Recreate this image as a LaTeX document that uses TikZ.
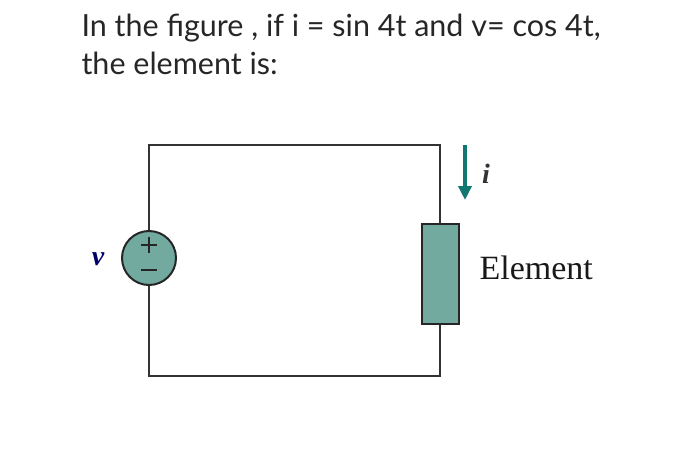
\documentclass[tikz,border=0pt]{standalone}
\usetikzlibrary{arrows.meta}
\usepackage{fontspec}
\setmainfont{Liberation Serif}
\newfontfamily\titlefont{Lato}
\definecolor{fillteal}{RGB}{114,170,160}
\definecolor{arrteal}{RGB}{18,119,112}
\begin{document}
\begin{tikzpicture}[x=1pt,y=-1pt,
  wire/.style={line width=2pt,black!80},
  comp/.style={draw=black!85,line width=2pt,fill=fillteal}]
\useasboundingbox (0,0) rectangle (700,465);
\node[anchor=west,font=\titlefont\fontsize{30.5}{36}\selectfont,text=black!85] (t1) at (78,28) {In the figure , if i = sin 4t and v= cos 4t,};
\node[anchor=west,font=\titlefont\fontsize{30.5}{36}\selectfont,text=black!85] (t2) at (78,63) {the element is:};
\coordinate (tl) at (149,145);
\coordinate (tr) at (440,145);
\coordinate (bl) at (149,376);
\coordinate (br) at (440,376);
\node[comp,circle,minimum size=54pt,inner sep=0pt] (src) at (149,258) {};
\node[comp,rectangle,minimum width=37pt,minimum height=100pt,inner sep=0pt] (el) at (440,274) {};
\draw[wire] (src.north) -- (tl) -- (tr) -- (el.north);
\draw[wire] (src.south) -- (bl) -- (br) -- (el.south);
\draw[black!85,line width=1.6pt] (src.center)++(-8,-13) -- ++(16,0) (src.center)++(0,-21) -- ++(0,16)
  (src.center)++(-8,12) -- ++(16,0);
\coordinate (a1) at (465,145);
\coordinate (a2) at (465,200);
\draw[arrteal,line width=3.5pt,-{Triangle[length=14pt,width=13pt]}] (a1) -- (a2);
\node[font=\fontsize{28}{32}\selectfont\itshape\bfseries,text=black!80] (il) at (486,174) {i};
\node[font=\fontsize{28}{32}\selectfont\itshape\bfseries,text=blue!40!black] (vl) at (98,259) {v};
\node[anchor=west,font=\fontsize{34}{40}\selectfont,text=black!90] (et) at (476,268) {Element};
\end{tikzpicture}
\end{document}
